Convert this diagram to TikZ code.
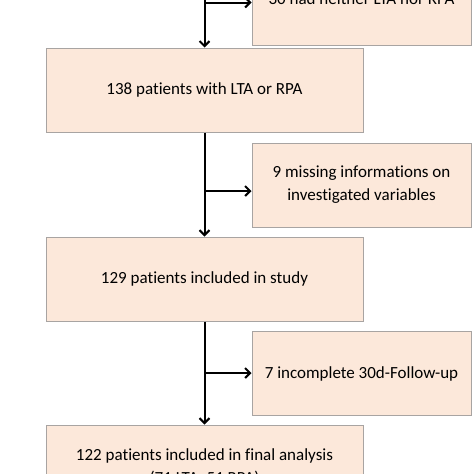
\documentclass[tikz,border=0pt]{standalone}
\usepackage{fontspec}
\setmainfont{Carlito}[Ligatures=CommonOff]
\usetikzlibrary{arrows.meta}
\definecolor{boxfill}{HTML}{FCE8DA}
\definecolor{boxline}{HTML}{A8A4A2}
\begin{document}
\begin{tikzpicture}[x=1pt,y=1pt,
  flowbox/.style={draw=boxline,fill=boxfill,line width=1pt,align=center,
    inner sep=0pt,font=\fontsize{17}{23}\selectfont},
  mainbox/.style={flowbox,minimum width=317pt,minimum height=84pt},
  sidebox/.style={flowbox,minimum width=219pt,minimum height=84pt},
  conn/.style={line width=2pt,-{Straight Barb[length=5pt,width=10pt,line width=2pt]}}]
\useasboundingbox (0,0) rectangle (474,-474);
\node[sidebox] (r0) at (361.5,-3) {};
\node[anchor=base,font=\fontsize{17}{23}\selectfont] (r0t) at (361.5,-4) {30 had neither LTA nor RPA};
\node[mainbox] (b1) at (204.5,-90) {138 patients with LTA or RPA};
\node[sidebox] (r1) at (361.5,-185) {9 missing informations on\\investigated variables};
\node[mainbox] (b2) at (204.5,-279) {129 patients included in study};
\node[sidebox] (r2) at (361.5,-373.5) {7 incomplete 30d-Follow-up};
\node[mainbox] (b3) at (204.5,-467) {122 patients included in final analysis\\(71 LTA, 51 RPA)};
\coordinate (top) at (204.5,20);
\coordinate (j0) at (204.5,-2.5);
\coordinate (j1) at (204.5,-191);
\coordinate (j2) at (204.5,-373);
\draw[conn] (top) -- (b1.north);
\draw[conn] (j0) -- (r0.west |- j0);
\draw[conn] (b1.south) -- (b2.north);
\draw[conn] (j1) -- (r1.west |- j1);
\draw[conn] (b2.south) -- (b3.north);
\draw[conn] (j2) -- (r2.west |- j2);
\end{tikzpicture}
\end{document}
